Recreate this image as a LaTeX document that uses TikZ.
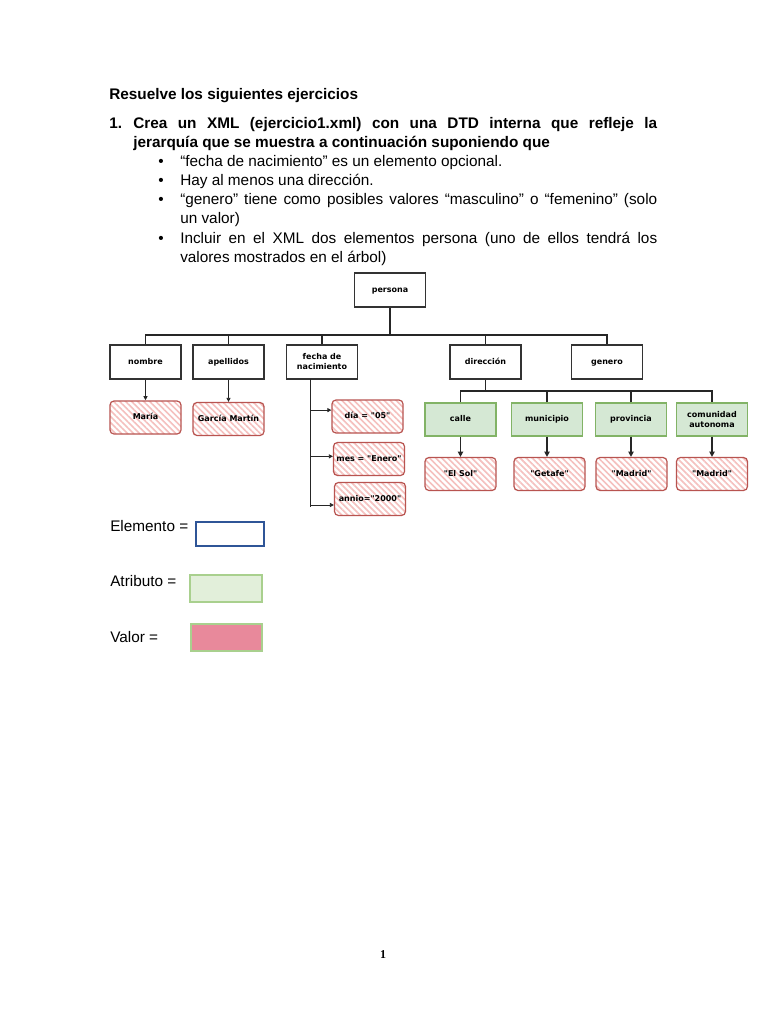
\documentclass[tikz,border=0pt]{standalone}
\usepackage{fontspec}
\setmainfont{Liberation Sans}
\newfontfamily\dvfont{DejaVu Sans}
\newfontfamily\pnfont{Liberation Serif}
\usetikzlibrary{arrows.meta,patterns.meta}
\definecolor{valline}{HTML}{B85450}
\definecolor{valfill}{HTML}{F5C0BE}
\definecolor{attfill}{HTML}{D5E8D4}
\definecolor{attline}{HTML}{82B366}
\definecolor{elline}{HTML}{333333}
\definecolor{legblue}{HTML}{2F5597}
\definecolor{leggreenfill}{HTML}{E2EFDA}
\definecolor{leggreenline}{HTML}{A9D08E}
\definecolor{legpink}{HTML}{E8899B}
\newcommand{\bodyfont}{\fontsize{11.5}{14.25}\selectfont}
\newcommand{\diafont}{\dvfont\bfseries\fontsize{6}{7.5}\selectfont}
\tikzset{
  body/.style={anchor=base west, inner sep=0pt, font=\bodyfont},
  bodyb/.style={anchor=base west, inner sep=0pt, font=\bodyfont\bfseries},
  boxtext/.style={text height=4.6pt, text depth=1.3pt},
  twoline/.style={text height=, text depth=},
  elem/.style={boxtext, draw=elline, line width=1.1pt, fill=white, minimum width=53.25pt, minimum height=25.5pt, inner sep=1pt, align=center, font=\diafont},
  attr/.style={boxtext, draw=attline, line width=0.8pt, fill=attfill, minimum width=53.25pt, minimum height=24.75pt, inner sep=1pt, align=center, font=\diafont},
  val/.style={boxtext, draw=valline, line width=0.9pt, rounded corners=3pt, pattern={Lines[angle=-45,distance=3.2pt,line width=1.2pt]}, pattern color=valfill, minimum width=53.25pt, minimum height=24.75pt, inner sep=0.5pt, align=center, font=\diafont},
  link/.style={draw=black!85, line width=1.1pt},
  thinlink/.style={draw=black!85, line width=0.7pt},
  thinarrow/.style={draw=black!85, line width=0.6pt, -{Triangle[length=3pt,width=3pt]}},
  thickarrow/.style={draw=black!85, line width=1.1pt, -{Triangle[length=4pt,width=4pt]}},
}
\begin{document}
\begin{tikzpicture}[x=0.75pt,y=-0.75pt]
\fill[white] (0,0) rectangle (768,1024);
\useasboundingbox (0,0) rectangle (768,1024);

% text
\node[bodyb] (title) at (109,99) {Resuelve los siguientes ejercicios};
\node[bodyb] (num1) at (109,128) {1.};
\node[bodyb] (q1a) at (133,128) {\makebox[393pt][s]{Crea un XML (ejercicio1.xml) con una DTD interna que refleje la}};
\node[bodyb] (q1b) at (133,147) {jerarquía que se muestra a continuación suponiendo que};

\node[body] (b1) at (158,166) {\textbullet};
\node[body] (b1t) at (180,166) {“fecha de nacimiento” es un elemento opcional.};
\node[body] (b2) at (158,185) {\textbullet};
\node[body] (b2t) at (180,185) {Hay al menos una dirección.};
\node[body] (b3) at (158,204) {\textbullet};
\node[body] (b3t) at (180,204) {\makebox[357.75pt][s]{“genero” tiene como posibles valores “masculino” o “femenino” (solo}};
\node[body] (b3u) at (180,223) {un valor)};
\node[body] (b4) at (158,243) {\textbullet};
\node[body] (b4t) at (180,243) {\makebox[357.75pt][s]{Incluir en el XML dos elementos persona (uno de ellos tendrá los}};
\node[body] (b4u) at (180,262) {valores mostrados en el árbol)};

% tree nodes
\node[elem] (persona) at (390,290) {persona};
\node[elem] (nombre) at (145.5,362) {nombre};
\node[elem] (apellidos) at (228.5,362) {apellidos};
\node[elem, twoline] (fecha) at (322,362) {fecha de\\nacimiento};
\node[elem] (direccion) at (485.5,362) {dirección};
\node[elem] (genero) at (607,362) {genero};

\node[attr] (calle) at (460.5,419.5) {calle};
\node[attr] (municipio) at (547,419.5) {municipio};
\node[attr] (provincia) at (631,419.5) {provincia};
\node[attr, twoline] (comunidad) at (712,419.5) {comunidad\\autonoma};

\node[val] (maria) at (145.5,417.5) {María};
\node[val] (garcia) at (228.5,419) {García Martín};
\node[val] (dia) at (367.5,416.5) {día = "05"};
\node[val] (mes) at (369,459) {mes = "Enero"};
\node[val] (annio) at (370,499) {annio="2000"};
\node[val] (elsol) at (460.5,474) {"El Sol"};
\node[val] (getafe) at (549.5,474) {"Getafe"};
\node[val] (madrid) at (631.5,474) {"Madrid"};
\node[val] (madrid2) at (712,474) {"Madrid"};

% connectors
\coordinate (bus1) at (0,335);
\draw[link] (nombre.north) -- (nombre.north |- bus1) -- (genero.north |- bus1) -- (genero.north);
\draw[link] (persona.south) -- (persona.south |- bus1);
\draw[link] (apellidos.north) -- (apellidos.north |- bus1);
\draw[link] (fecha.north) -- (fecha.north |- bus1);
\draw[link] (direccion.north) -- (direccion.north |- bus1);

\coordinate (bus2) at (0,391);
\draw[link] (calle.north) -- (calle.north |- bus2) -- (comunidad.north |- bus2) -- (comunidad.north);
\draw[link] (direccion.south) -- (direccion.south |- bus2);
\draw[link] (municipio.north) -- (municipio.north |- bus2);
\draw[link] (provincia.north) -- (provincia.north |- bus2);

\draw[thinarrow] (nombre.south) -- (maria.north);
\draw[thinarrow] (apellidos.south) -- (apellidos.south |- garcia.north);

\coordinate (fv) at (310,379);
\coordinate (fvend) at (310,507);
\draw[thinlink] (fv) -- (fvend);
\draw[thinarrow] ([yshift=4.8pt]dia.west -| fv) -- ([yshift=4.8pt]dia.west);
\draw[thinarrow] ([yshift=2pt]mes.west -| fv) -- ([yshift=2pt]mes.west);
\draw[thinarrow] ([yshift=-4.5pt]annio.west -| fv) -- ([yshift=-4.5pt]annio.west);

\draw[thickarrow] (calle.south) -- (calle.south |- elsol.north);
\draw[thickarrow] (municipio.south) -- (municipio.south |- getafe.north);
\draw[thickarrow] (provincia.south) -- (provincia.south |- madrid.north);
\draw[thickarrow] (comunidad.south) -- (comunidad.south |- madrid2.north);

% legend
\node[body] (lel) at (110,531) {Elemento =};
\node[draw=legblue, line width=1pt, minimum width=51pt, minimum height=18pt, inner sep=0pt] (lelbox) at (230,534) {};
\node[body] (lat) at (110,586) {Atributo =};
\node[draw=leggreenline, fill=leggreenfill, line width=0.8pt, minimum width=54pt, minimum height=20.25pt, inner sep=0pt] (latbox) at (226,588.5) {};
\node[body] (lva) at (110,642) {Valor =};
\node[draw=leggreenline, fill=legpink, line width=0.8pt, minimum width=53.25pt, minimum height=20.25pt, inner sep=0pt] (lvabox) at (226.5,637.5) {};

\node[font=\pnfont\bfseries\fontsize{9}{10}\selectfont, inner sep=0pt] (pg) at (383,955) {1};
\end{tikzpicture}
\end{document}
